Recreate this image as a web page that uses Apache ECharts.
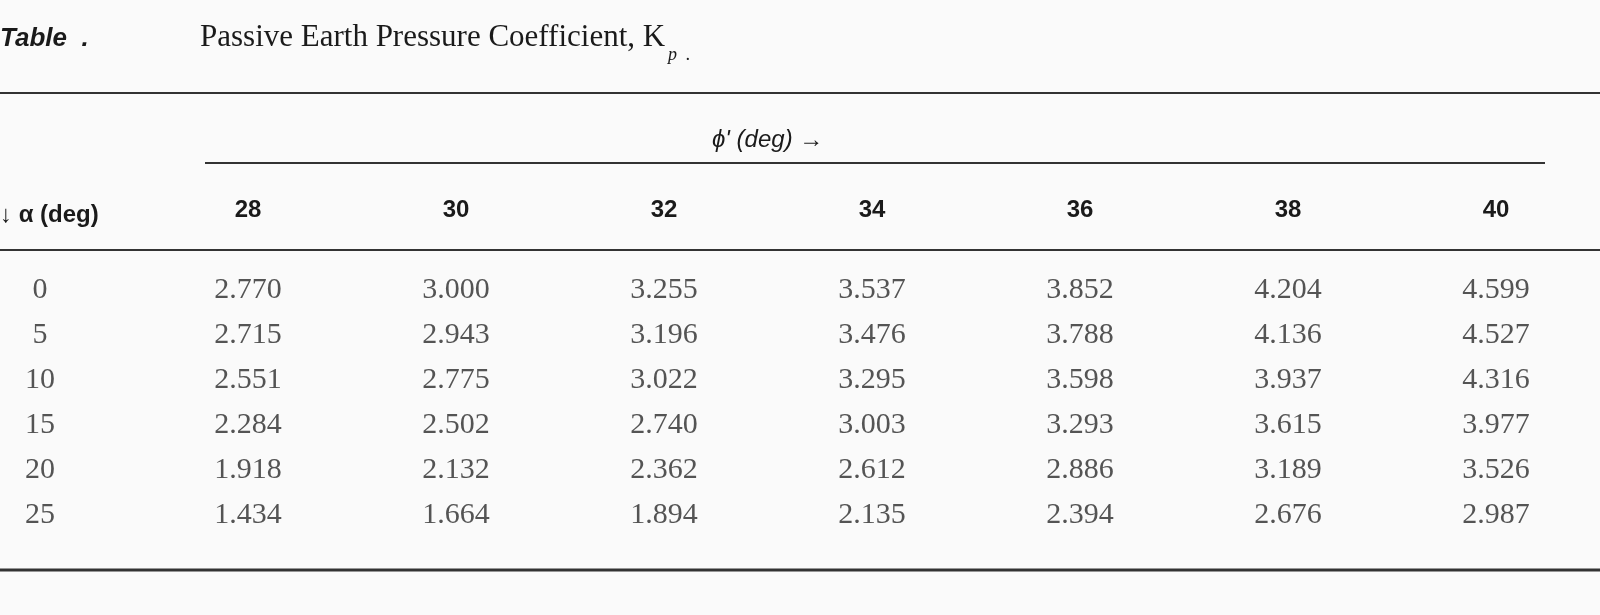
<!DOCTYPE html>
<html>
<head>
<meta charset="utf-8">
<script src="https://cdn.jsdelivr.net/npm/echarts@6/dist/echarts.min.js"></script>
<style>html,body{margin:0;background:#fafafa}#main{width:1600px;height:615px}</style>
</head>
<body>
<div id="main"></div>
<script>
// passive earth pressure table
var phi = ['28', '30', '32', '34', '36', '38', '40'];
var alpha = ['0', '5', '10', '15', '20', '25'];
var kp = [
  ['2.770', '3.000', '3.255', '3.537', '3.852', '4.204', '4.599'],
  ['2.715', '2.943', '3.196', '3.476', '3.788', '4.136', '4.527'],
  ['2.551', '2.775', '3.022', '3.295', '3.598', '3.937', '4.316'],
  ['2.284', '2.502', '2.740', '3.003', '3.293', '3.615', '3.977'],
  ['1.918', '2.132', '2.362', '2.612', '2.886', '3.189', '3.526'],
  ['1.434', '1.664', '1.894', '2.135', '2.394', '2.676', '2.987']
];

var chart = echarts.init(document.getElementById('main'));
var cols = ['a'].concat(phi);
var cells = [];
for (var i = 0; i < alpha.length; i++) {
  cells.push(['a', alpha[i], alpha[i]]);
  for (var j = 0; j < phi.length; j++) {
    cells.push([phi[j], alpha[i], kp[i][j]]);
  }
}
var serif = 'Liberation Serif';
var sans = 'Liberation Sans';
var ink = '#1a1a1a';

chart.setOption({
  backgroundColor: '#fafafa',
  grid: { left: 40, width: 1456, top: 268, height: 270 },
  xAxis: {
    type: 'category', data: cols, position: 'top', offset: 38, boundaryGap: false,
    axisLine: { show: false }, axisTick: { show: false },
    axisLabel: {
      fontFamily: sans, fontSize: 24, fontWeight: 'bold', color: ink,
      formatter: function (v) { return v === 'a' ? '' : v; }
    }
  },
  yAxis: {
    type: 'category', data: alpha, inverse: true, show: false
  },
  series: [{
    type: 'scatter', symbolSize: 0, data: cells,
    label: {
      show: true, position: 'inside', fontFamily: serif, fontSize: 30, color: '#2a2a2a',
      formatter: function (p) { return p.value[2]; }
    }
  }],
  graphic: [
    { type: 'text', left: 0, top: 26, style: { text: 'Table  .', font: 'italic bold 26px "Liberation Sans"', fill: ink } },
    { type: 'text', left: 200, top: 22, style: { text: 'Passive Earth Pressure Coefficient, K', font: '31px "Liberation Serif"', fill: ink } },
    { type: 'text', left: 668, top: 46, style: { text: 'p  .', font: 'italic 18px "Liberation Serif"', fill: ink } },
    { type: 'line', shape: { x1: 0, y1: 93, x2: 1600, y2: 93 }, style: { stroke: '#333', lineWidth: 2 } },
    { type: 'text', left: 712, top: 128, style: { text: "\u03d5' (deg) \u2192", font: 'italic 24px "Liberation Sans"', fill: ink } },
    { type: 'line', shape: { x1: 205, y1: 163, x2: 1545, y2: 163 }, style: { stroke: '#333', lineWidth: 2 } },
    { type: 'text', left: 0, top: 203, style: { text: '\u2193 \u03b1 (deg)', font: 'bold 24px "Liberation Sans"', fill: ink } },
    { type: 'line', shape: { x1: 0, y1: 250, x2: 1600, y2: 250 }, style: { stroke: '#333', lineWidth: 2 } },
    { type: 'line', shape: { x1: 0, y1: 570, x2: 1600, y2: 570 }, style: { stroke: '#333', lineWidth: 3 } }
  ]
});
</script>
</body>
</html>
